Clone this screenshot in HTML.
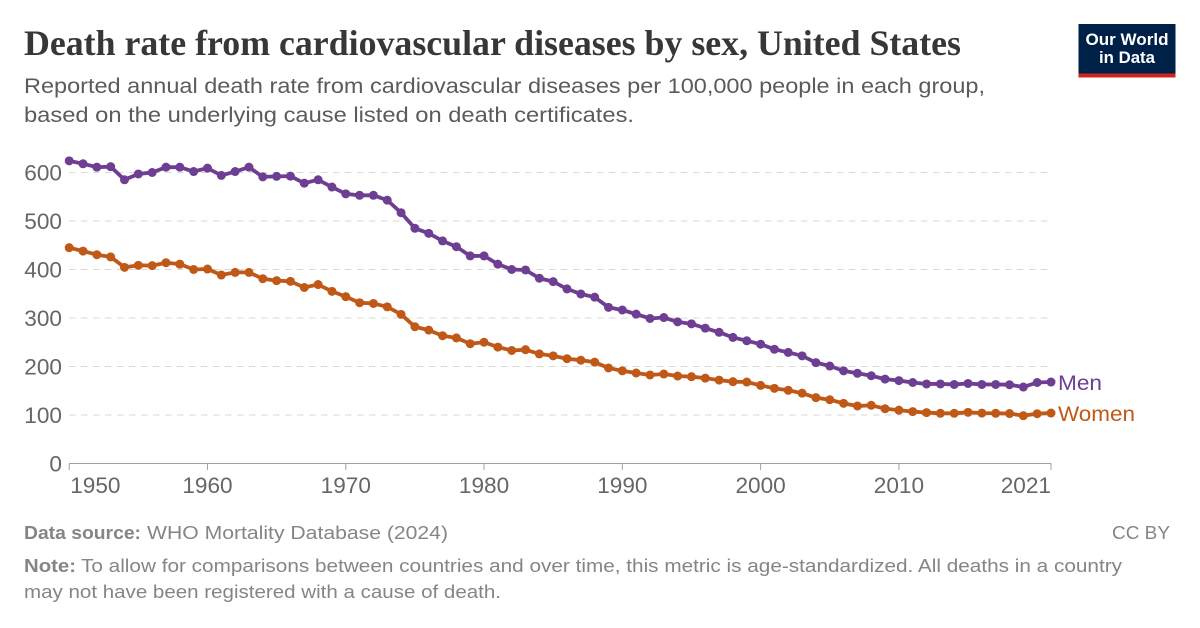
<!DOCTYPE html>
<html lang="en">
<head>
<meta charset="utf-8">
<title>Death rate from cardiovascular diseases by sex, United States</title>
<style>
html,body{margin:0;padding:0;background:#fff;}
body{width:1200px;height:628px;overflow:hidden;}
svg{display:block;font-family:"Liberation Sans",sans-serif;}
</style>
</head>
<body>
<svg id="chart" xmlns="http://www.w3.org/2000/svg" width="1200" height="628" viewBox="0 0 1200 628">
  <rect x="0" y="0" width="1200" height="628" fill="#fff"/>
  <text x="24" y="55" font-family="'Liberation Serif',serif" font-weight="700" font-size="36" fill="#373737" textLength="937" lengthAdjust="spacingAndGlyphs">Death rate from cardiovascular diseases by sex, United States</text>
  <text x="24" y="93" font-size="21" fill="#5b5b5b" textLength="961" lengthAdjust="spacingAndGlyphs">Reported annual death rate from cardiovascular diseases per 100,000 people in each group,</text>
  <text x="24" y="122" font-size="21" fill="#5b5b5b" textLength="610" lengthAdjust="spacingAndGlyphs">based on the underlying cause listed on death certificates.</text>

  <g>
    <rect x="1078.5" y="24" width="97" height="50" fill="#002147"/>
    <rect x="1078.5" y="73.5" width="97" height="4" fill="#ce261e"/>
    <text x="1127" y="45" font-size="16.5" font-weight="700" fill="#fff" text-anchor="middle" textLength="83" lengthAdjust="spacingAndGlyphs">Our World</text>
    <text x="1127" y="63" font-size="16.5" font-weight="700" fill="#fff" text-anchor="middle" textLength="56" lengthAdjust="spacingAndGlyphs">in Data</text>
  </g>

  <g id="grid"></g>
  <g id="yticks"></g>
  <g id="xaxis"></g>
  <g id="series"></g>

  <text x="24" y="539" font-size="18.5" font-weight="700" fill="#858585" textLength="117" lengthAdjust="spacingAndGlyphs">Data source:</text>
  <text x="147" y="539" font-size="18.5" fill="#858585" textLength="301" lengthAdjust="spacingAndGlyphs">WHO Mortality Database (2024)</text>
  <text x="1112" y="539" font-size="18.5" fill="#858585" textLength="58" lengthAdjust="spacingAndGlyphs">CC BY</text>
  <text x="24" y="572" font-size="18.5" font-weight="700" fill="#858585" textLength="52" lengthAdjust="spacingAndGlyphs">Note:</text>
  <text x="81" y="572" font-size="18.5" fill="#858585" textLength="1041" lengthAdjust="spacingAndGlyphs">To allow for comparisons between countries and over time, this metric is age-standardized. All deaths in a country</text>
  <text x="24" y="598" font-size="18.5" fill="#858585" textLength="477" lengthAdjust="spacingAndGlyphs">may not have been registered with a cause of death.</text>
</svg>
<script>
const startYear = 1950;
const menValues = [624,618,611,612,585,597,600,611,611,602,609,594,602,611,591,592,592.5,578,585,570,556,553,553,543,517,485,474.6,459,447,428,428,411,400,399,382,375,360,349.5,343,322,316.5,308,299,301,292,288,279,270.5,260,253,246,235.5,229,222,208,201,191,186,181,174,171,167,164,164,163,165,163,163,162.5,157.7,167,168];
const womenValues = [445,438,430.5,426,404.5,408.6,408,414,411,400,401,388.6,394,394,381,377,375.6,363,369,355,344,331.5,330,323,307.6,282,275,263.5,259,247,250,240,233,234.7,226,222,216,213,209,197,191,186.6,182.5,184.5,180.4,179,176,172,168.7,168,161,155,151,145,135.7,131.5,124,118.6,120,113,110,107,105,103.5,103.5,105.5,103.9,103.5,103,98.6,102.7,104];
const yTickValues = [0,100,200,300,400,500,600];
const xTickYears = [1950,1960,1970,1980,1990,2000,2010,2021];
const seriesNames = ["Men","Women"];

const NS = "http://www.w3.org/2000/svg";
const xScale = function (year) { return 69.2 + (year - 1950) * (1051 - 69.2) / 71; };
const yScale = function (v) { return 463.5 - v * 0.485; };
function make(tag, parent, attrs, text) {
  const el = document.createElementNS(NS, tag);
  for (const k in attrs) el.setAttribute(k, attrs[k]);
  if (text !== undefined) el.textContent = text;
  parent.appendChild(el);
  return el;
}

const grid = document.getElementById("grid");
const yticks = document.getElementById("yticks");
yTickValues.forEach(function (v) {
  if (v !== 0) {
    const line = make("line", grid, {x1: 69, x2: 1048, y1: yScale(v), y2: yScale(v), stroke: "#d8d8d8", "stroke-width": 1, "stroke-dasharray": "6.5,5.5"});
    
    
  }
  const label = make("text", yticks, {x: 62, y: yScale(v) + 8, "font-size": 22.6, fill: "#666666", "text-anchor": "end"}, String(v));
  
  
});

const xaxis = document.getElementById("xaxis");
const axisLine = make("line", xaxis, {x1: xScale(1950), x2: xScale(2021), y1: 463.5, y2: 463.5, stroke: "#a1a1a1", "stroke-width": 1});


xTickYears.forEach(function (year, i) {
  const px = xScale(year);
  const tick = make("line", xaxis, {x1: px, x2: px, y1: 463.5, y2: 470, stroke: "#a1a1a1", "stroke-width": 1});
  
  
  const first = i === 0, last = i === xTickYears.length - 1;
  const label = make("text", xaxis, {x: first ? px + 1 : px, y: 493, "font-size": 22.6, fill: "#666666", "text-anchor": first ? "start" : (last ? "end" : "middle")}, String(year));
  
  
});

const seriesGroup = document.getElementById("series");
function drawSeries(name, values, color, labelBaselineOffset) {
  const g = make("g", seriesGroup, {});
  
  
  const pts = values.map(function (v, i) { return xScale(startYear + i).toFixed(2) + "," + yScale(v).toFixed(2); }).join(" ");
  const line = make("polyline", g, {points: pts, fill: "none", stroke: color, "stroke-width": 3.8, "stroke-linejoin": "round"});
  
  
  values.forEach(function (v, i) {
    const year = startYear + i;
    const dot = make("circle", g, {cx: xScale(year), cy: yScale(v), r: 4.5, fill: color});
    
    
  });
  const lastVal = values[values.length - 1];
  const label = make("text", g, {x: 1058, y: yScale(lastVal) + labelBaselineOffset, "font-size": 21.5, fill: color}, name);
  
  
  label.setAttribute('textLength', name === "Men" ? 44 : 77);
  label.setAttribute('lengthAdjust', 'spacingAndGlyphs');
}
drawSeries(seriesNames[0], menValues, "#6d3e91", 8);
drawSeries(seriesNames[1], womenValues, "#c05917", 8);
</script>
</body>
</html>
